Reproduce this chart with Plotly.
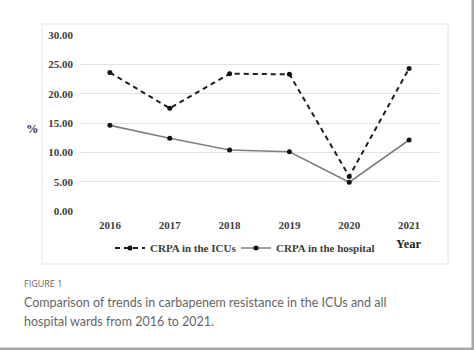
import plotly.graph_objects as go

years = ["2016", "2017", "2018", "2019", "2020", "2021"]
icu = [23.6, 17.5, 23.4, 23.3, 5.9, 24.3]
hospital = [14.6, 12.4, 10.4, 10.1, 4.9, 12.1]
y_ticks = [0, 5, 10, 15, 20, 25, 30]
y_tick_labels = ["0.00", "5.00", "10.00", "15.00", "20.00", "25.00", "30.00"]

W, H = 474, 350
L, R, T, B = 80, 35, 35, 139
pw, ph = W - L - R, H - T - B

def px(x):
    return (x - L) / pw

def py(y):
    return (H - B - y) / ph

tick_font = dict(family="Liberation Serif", size=11, color="#3c3c3c")

fig = go.Figure()
fig.add_trace(go.Scatter(
    x=years, y=icu, name="<b>CRPA in the ICUs</b>", mode="lines+markers",
    line=dict(color="#1e1e1e", width=2, dash="5px,4px"),
    marker=dict(color="#111111", size=5), legend="legend",
))
fig.add_trace(go.Scatter(
    x=years, y=hospital, name="<b>CRPA in the hospital</b>", mode="lines+markers",
    line=dict(color="#808080", width=1.6),
    marker=dict(color="#111111", size=5), legend="legend2",
))

shapes = [
    dict(type="rect", xref="paper", yref="paper",
         x0=px(42), x1=px(448), y0=py(264), y1=py(24),
         line=dict(color="#e2e2e2", width=1), fillcolor="rgba(0,0,0,0)", layer="below"),
    dict(type="rect", xref="paper", yref="paper",
         x0=px(471.5), x1=px(475), y0=py(351), y1=py(-1),
         line=dict(width=0), fillcolor="#a8a8a8"),
    dict(type="rect", xref="paper", yref="paper",
         x0=px(-1), x1=px(475), y0=py(351), y1=py(347.5),
         line=dict(width=0), fillcolor="#a8a8a8"),
]

def ann(text, x, y, size, family, color, xanchor="center"):
    return dict(text=text, xref="paper", yref="paper", x=px(x), y=py(y),
                xanchor=xanchor, yanchor="middle", showarrow=False, align="left",
                font=dict(family=family, size=size, color=color))

annotations = [
    ann("<b>%</b>", 32, 129, 12.5, "Liberation Serif", "#333333"),
    ann("<b>Year</b>", 408, 244, 12.5, "Liberation Serif", "#222222"),
    ann("FIGURE 1", 22, 283, 9, "Open Sans", "#666666", "left"),
    ann("Comparison of trends in carbapenem resistance in the ICUs and all", 22, 302, 12.5, "Lato", "#666666", "left"),
    ann("hospital wards from 2016 to 2021.", 22, 321, 12.5, "Lato", "#666666", "left"),
]

legend_font = dict(family="Liberation Serif", size=11, color="#3c3c3c")

fig.update_layout(
    width=W, height=H,
    margin=dict(l=L, r=R, t=T, b=B, pad=0),
    paper_bgcolor="white", plot_bgcolor="white",
    showlegend=True,
    legend=dict(orientation="h", x=px(110), y=py(248), xanchor="left", yanchor="middle",
                font=legend_font, itemwidth=30, bgcolor="rgba(0,0,0,0)"),
    legend2=dict(orientation="h", x=px(236), y=py(248), xanchor="left", yanchor="middle",
                 font=legend_font, itemwidth=30, bgcolor="rgba(0,0,0,0)"),
    xaxis=dict(type="category", range=[-0.5, 5.5], showgrid=False, zeroline=False,
               showline=False, ticks="", tickfont=tick_font,
               ticklabelstandoff=6),
    yaxis=dict(range=[0, 30], tickvals=y_ticks, ticktext=["<b>%s</b>" % t for t in y_tick_labels],
               showgrid=True, gridcolor="#e3e3e3", gridwidth=1, zeroline=False,
               showline=False, ticks="", tickfont=tick_font, ticklabelstandoff=6),
    shapes=shapes,
    annotations=annotations,
)
fig.update_xaxes(ticktext=["<b>%s</b>" % y for y in years], tickvals=years)

fig.write_html("out.html")
